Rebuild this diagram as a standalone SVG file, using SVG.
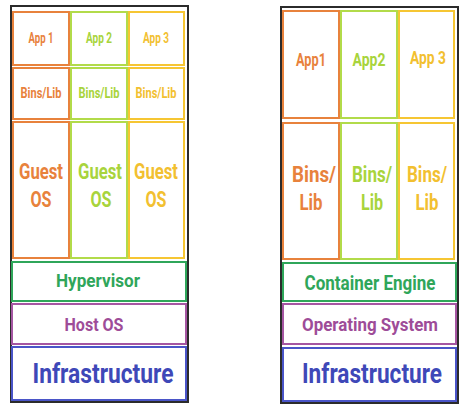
<svg xmlns="http://www.w3.org/2000/svg" width="474" height="407" viewBox="0 0 474 407">
<style>
text{font-family:Roboto,"Liberation Sans",sans-serif;font-weight:bold;text-anchor:middle}
rect{fill:#fff;stroke-width:2}
.frame{stroke:#2b2b2b;stroke-width:2}
.o{stroke:#E8823C}.ot{fill:#E8823C}
.g{stroke:#B2DB4A}.gt{fill:#A8D43C}
.y{stroke:#F6C633}.yt{fill:#F2C030}
.h{stroke:#2FA65A}.ht{fill:#2FA65A}
.p{stroke:#A556A2}.pt{fill:#9E4C98}
.b{stroke:#4A55C8}.bt{fill:#3E48B8}
</style>
<rect width="474" height="407" style="stroke:none"/>
<g id="vm">
<rect class="frame" x="11" y="6" width="177" height="396"/>
<g id="vm-app1"><rect class="o" x="13" y="12" width="56" height="53"/><text class="ot" x="41" y="43" font-size="15" textLength="25" lengthAdjust="spacingAndGlyphs">App 1</text></g>
<g id="vm-app2"><rect class="g" x="71" y="12" width="56" height="53"/><text class="gt" x="99" y="43" font-size="15" textLength="26" lengthAdjust="spacingAndGlyphs">App 2</text></g>
<g id="vm-app3"><rect class="y" x="129" y="12" width="55" height="53"/><text class="yt" x="156" y="43" font-size="15" textLength="26" lengthAdjust="spacingAndGlyphs">App 3</text></g>
<g id="vm-bins1"><rect class="o" x="13" y="68" width="56" height="51"/><text class="ot" x="41" y="98" font-size="15" textLength="41" lengthAdjust="spacingAndGlyphs">Bins/Lib</text></g>
<g id="vm-bins2"><rect class="g" x="71" y="68" width="56" height="51"/><text class="gt" x="99" y="98" font-size="15" textLength="41" lengthAdjust="spacingAndGlyphs">Bins/Lib</text></g>
<g id="vm-bins3"><rect class="y" x="129" y="68" width="55" height="51"/><text class="yt" x="156" y="98" font-size="15" textLength="41" lengthAdjust="spacingAndGlyphs">Bins/Lib</text></g>
<g id="vm-guest1"><rect class="o" x="13" y="122" width="56" height="136"/><text class="ot" x="41" y="179" font-size="22" textLength="44" lengthAdjust="spacingAndGlyphs">Guest</text><text class="ot" x="41" y="207" font-size="22" textLength="21" lengthAdjust="spacingAndGlyphs">OS</text></g>
<g id="vm-guest2"><rect class="g" x="71" y="122" width="56" height="136"/><text class="gt" x="100" y="179" font-size="22" textLength="44" lengthAdjust="spacingAndGlyphs">Guest</text><text class="gt" x="101" y="207" font-size="22" textLength="21" lengthAdjust="spacingAndGlyphs">OS</text></g>
<g id="vm-guest3"><rect class="y" x="129" y="122" width="55" height="136"/><text class="yt" x="156" y="179" font-size="22" textLength="44" lengthAdjust="spacingAndGlyphs">Guest</text><text class="yt" x="156" y="207" font-size="22" textLength="21" lengthAdjust="spacingAndGlyphs">OS</text></g>
<g id="hypervisor"><rect class="h" x="12" y="262" width="174" height="39"/><text class="ht" x="98" y="287" font-size="19" textLength="84" lengthAdjust="spacingAndGlyphs">Hypervisor</text></g>
<g id="hostos"><rect class="p" x="12" y="304" width="174" height="40"/><text class="pt" x="94" y="331" font-size="18" textLength="59" lengthAdjust="spacingAndGlyphs">Host OS</text></g>
<g id="vm-infra"><rect class="b" x="12" y="347" width="174" height="53"/><text class="bt" x="103" y="383" font-size="28" textLength="141" lengthAdjust="spacingAndGlyphs">Infrastructure</text></g>
</g>
<g id="ct">
<rect class="frame" x="281" y="7" width="177" height="396"/>
<g id="ct-app1"><rect class="o" x="283" y="11" width="56" height="107"/><text class="ot" x="311" y="66" font-size="18" textLength="30" lengthAdjust="spacingAndGlyphs">App1</text></g>
<g id="ct-app2"><rect class="g" x="341" y="11" width="56" height="107"/><text class="gt" x="369" y="66" font-size="18" textLength="33" lengthAdjust="spacingAndGlyphs">App2</text></g>
<g id="ct-app3"><rect class="y" x="399" y="11" width="55" height="107"/><text class="yt" x="428" y="64" font-size="18" textLength="36" lengthAdjust="spacingAndGlyphs">App 3</text></g>
<g id="ct-bins1"><rect class="o" x="283" y="123" width="56" height="136"/><text class="ot" x="314" y="182" font-size="22" textLength="44" lengthAdjust="spacingAndGlyphs">Bins/</text><text class="ot" x="311" y="210" font-size="22" textLength="23" lengthAdjust="spacingAndGlyphs">Lib</text></g>
<g id="ct-bins2"><rect class="g" x="341" y="123" width="56" height="136"/><text class="gt" x="372" y="182" font-size="22" textLength="40" lengthAdjust="spacingAndGlyphs">Bins/</text><text class="gt" x="372" y="210" font-size="22" textLength="22" lengthAdjust="spacingAndGlyphs">Lib</text></g>
<g id="ct-bins3"><rect class="y" x="399" y="123" width="55" height="136"/><text class="yt" x="427" y="182" font-size="22" textLength="40" lengthAdjust="spacingAndGlyphs">Bins/</text><text class="yt" x="427" y="210" font-size="22" textLength="23" lengthAdjust="spacingAndGlyphs">Lib</text></g>
<g id="engine"><rect class="h" x="283" y="263" width="173" height="38"/><text class="ht" x="370" y="290" font-size="20" textLength="131" lengthAdjust="spacingAndGlyphs">Container Engine</text></g>
<g id="os"><rect class="p" x="283" y="304" width="173" height="40"/><text class="pt" x="370" y="331" font-size="19" textLength="136" lengthAdjust="spacingAndGlyphs">Operating System</text></g>
<g id="ct-infra"><rect class="b" x="283" y="348" width="173" height="53"/><text class="bt" x="372" y="383" font-size="28" textLength="140" lengthAdjust="spacingAndGlyphs">Infrastructure</text></g>
</g>
<g id="connectors"/>
</svg>
